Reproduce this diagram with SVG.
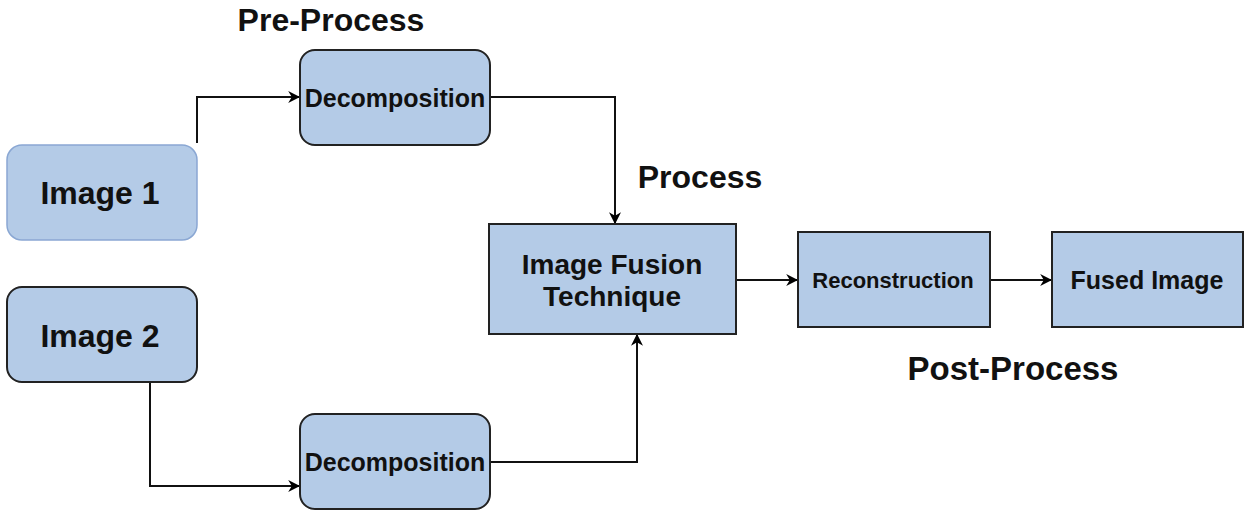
<svg xmlns="http://www.w3.org/2000/svg" width="1250" height="517" viewBox="0 0 1250 517">
<defs>
<marker id="arr" viewBox="0 0 10 10" refX="9" refY="5" markerWidth="12" markerHeight="12" markerUnits="userSpaceOnUse" orient="auto">
<path d="M0,0 L10,5 L0,10 L3,5 Z" fill="#000"/>
</marker>
</defs>
<style>
.box{fill:#b4cbe7;stroke:#222;stroke-width:2}
.box1{fill:#b4cbe7;stroke:#8aa7d3;stroke-width:1.5}
.t{font-family:"Liberation Sans",Arial,sans-serif;font-weight:bold;fill:#111;text-anchor:middle;dominant-baseline:central}
.c{fill:none;stroke:#111;stroke-width:2;marker-end:url(#arr)}
</style>
<rect width="1250" height="517" fill="#fff"/>
<g id="labels">
<text class="t" x="331" y="20" font-size="32">Pre-Process</text>
<text class="t" x="700" y="177" font-size="32">Process</text>
<text class="t" x="1013" y="368" font-size="33">Post-Process</text>
</g>
<g id="connectors">
<path class="c" d="M197,143 V97 H299"/>
<path class="c" d="M490,97 H615 V223"/>
<path class="c" d="M150,382 V486 H299"/>
<path class="c" d="M490,462 H637 V335"/>
<path class="c" d="M736,280 H797"/>
<path class="c" d="M990,280 H1051"/>
</g>
<g id="image1">
<rect class="box1" x="7" y="145" width="190" height="95" rx="15"/>
<text class="t" x="100" y="193" font-size="32">Image 1</text>
</g>
<g id="image2">
<rect class="box" x="7" y="287" width="190" height="95" rx="15"/>
<text class="t" x="100" y="336" font-size="32">Image 2</text>
</g>
<g id="decomp1">
<rect class="box" x="300" y="50" width="190" height="95" rx="15"/>
<text class="t" x="395" y="98" font-size="25">Decomposition</text>
</g>
<g id="decomp2">
<rect class="box" x="300" y="414" width="190" height="95" rx="15"/>
<text class="t" x="395" y="462" font-size="25">Decomposition</text>
</g>
<g id="fusion">
<rect class="box" x="489" y="224" width="247" height="110"/>
<text class="t" x="612" y="264" font-size="28">Image Fusion</text>
<text class="t" x="612" y="296" font-size="28">Technique</text>
</g>
<g id="recon">
<rect class="box" x="798" y="232" width="192" height="95"/>
<text class="t" x="893" y="280" font-size="22">Reconstruction</text>
</g>
<g id="fused">
<rect class="box" x="1052" y="232" width="191" height="95"/>
<text class="t" x="1147" y="280" font-size="25">Fused Image</text>
</g>
</svg>
